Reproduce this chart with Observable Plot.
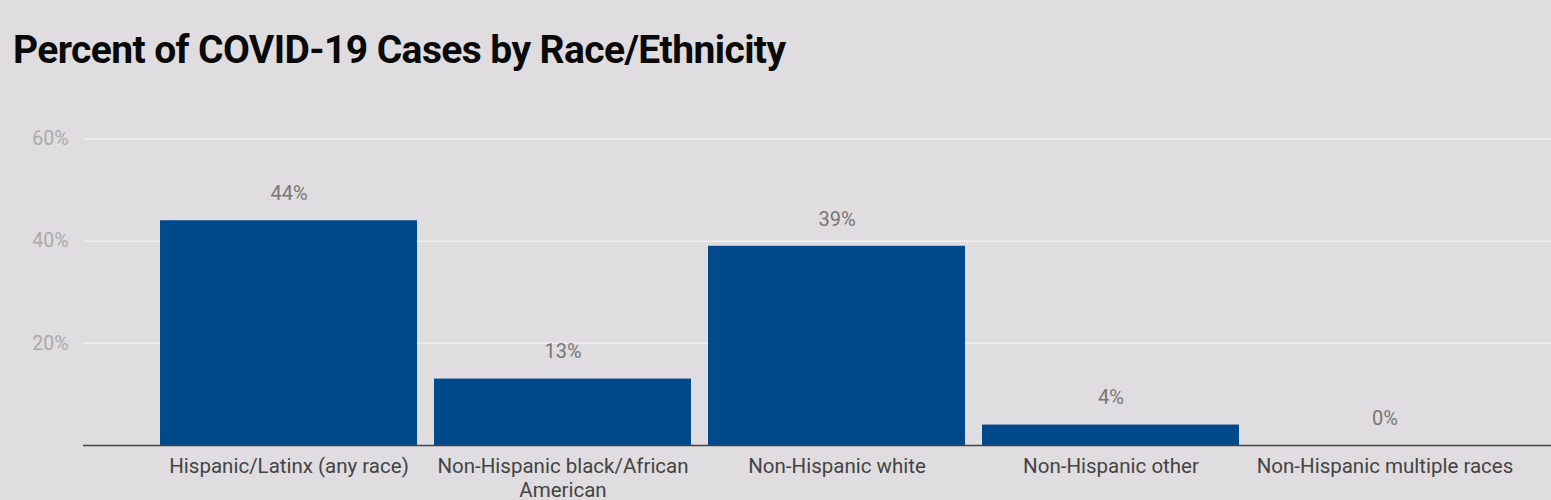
<!DOCTYPE html>
<html>
<head>
<meta charset="utf-8">
<script src="https://cdn.jsdelivr.net/npm/d3@7"></script>
<script src="https://cdn.jsdelivr.net/npm/@observablehq/plot@0.6"></script>
<style>
  html, body { margin: 0; padding: 0; background: #dfdddf; width: 1551px; height: 500px; overflow: hidden; }
  #title { position: absolute; left: 13px; top: 27px; font-family: Roboto, sans-serif; font-weight: 700; font-size: 39px; color: #0a0a0a; letter-spacing: -0.6px; white-space: nowrap; }
  #chart { position: absolute; left: 0; top: 100px; }
</style>
</head>
<body>
<div id="title">Percent of COVID-19 Cases by Race/Ethnicity</div>
<div id="chart"></div>
<script>
const categories = [
  "Hispanic/Latinx (any race)",
  "Non-Hispanic black/African American",
  "Non-Hispanic white",
  "Non-Hispanic other",
  "Non-Hispanic multiple races"
];
const tickLabels = [
  "Hispanic/Latinx (any race)",
  "Non-Hispanic black/African\nAmerican",
  "Non-Hispanic white",
  "Non-Hispanic other",
  "Non-Hispanic multiple races"
];
const values = [44, 13, 39, 4, 0];
const yTicks = [20, 40, 60];

const data = categories.map((c, i) => ({category: c, value: values[i]}));
const labelOf = new Map(categories.map((c, i) => [c, tickLabels[i]]));

const chart = Plot.plot({
  width: 1551,
  height: 400,
  marginLeft: 83,
  marginRight: 0,
  marginTop: 38.5,
  marginBottom: 55,
  style: {background: "transparent", fontFamily: "Roboto, sans-serif", fontSize: "20px", overflow: "visible"},
  x: {domain: categories, range: [151.5, 1521.5], paddingInner: 0.062, paddingOuter: 0.031, label: null},
  y: {domain: [0, 60], label: null},
  marks: [
    Plot.gridY(yTicks, {stroke: "#f2f0f2", strokeOpacity: 1, strokeWidth: 1.5}),
    Plot.axisY(yTicks, {tickSize: 0, tickPadding: 0, dx: -15, tickFormat: d => d + "%", fill: "#aaaaaa", fontSize: 19.5, label: null}),
    Plot.barY(data, {x: "category", y: "value", fill: "#00498b"}),
    Plot.ruleY([0], {stroke: "#444", strokeWidth: 1.5}),
    Plot.text(data, {x: "category", y: "value", text: d => d.value + "%", dy: -27, fill: "#777", fontSize: 20}),
    Plot.axisX({tickSize: 0, tickPadding: 11, tickFormat: d => labelOf.get(d), fill: "#444", fontSize: 20.5, lineHeight: 1.15, label: null})
  ]
});
document.getElementById("chart").appendChild(chart);
</script>
</body>
</html>
